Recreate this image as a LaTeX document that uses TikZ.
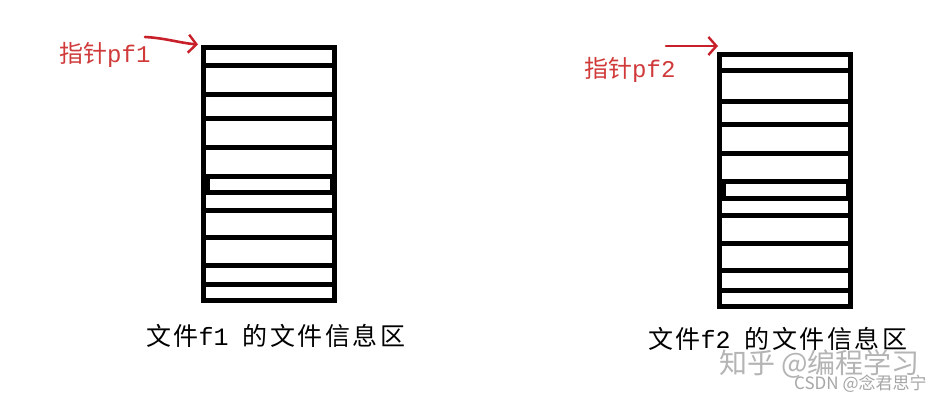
\documentclass[tikz,border=0pt]{standalone}
\usepackage{fontspec}
\setmainfont{Liberation Serif}
\setmonofont{Liberation Mono}
\newfontfamily\cjk{Noto Sans CJK SC}
\newfontfamily\cjksp[LetterSpace=10]{Noto Sans CJK SC}
\usetikzlibrary{arrows.meta}
\definecolor{penred}{HTML}{C8202A}
\definecolor{labred}{HTML}{D03A3A}
\definecolor{wmgray}{HTML}{B4B4B4}
\begin{document}
\begin{tikzpicture}[x=1pt,y=-1pt,
  filebox/.style={draw=black,line width=5pt,inner sep=0pt,minimum width=131pt,minimum height=252pt},
  rowline/.style={line width=5pt},
  ptr/.style={draw=penred,line width=2.6pt,line cap=round,-{Straight Barb[length=8pt,width=18pt,line width=2.4pt]}},
  ptrlabel/.style={text=labred,inner sep=0pt,anchor=west,font=\fontsize{24}{28}\selectfont},
  caption/.style={text=black,inner sep=0pt,anchor=west,font=\fontsize{25}{30}\selectfont},
  wm/.style={text=wmgray,inner sep=0pt,anchor=west}]
\useasboundingbox[fill=white] (0,0) rectangle (945,401);

% left file box
\node[filebox] (box1) at (268.8,174) {};
\foreach \y in {65.7,95,119,148,176,192,210,237,265,284}
  \draw[rowline] (203.3,\y) -- (334.3,\y);
\fill (205,178) rectangle (210,190);
\fill (330,178) rectangle (332,190);

% right file box
\node[filebox,minimum width=130.3pt,minimum height=251.6pt] (box2) at (784.85,180.5) {};
\foreach \y in {71,101.3,125,153.3,181,198,215,243,270.7,290}
  \draw[rowline] (719.7,\y) -- (850,\y);
\fill (721,183) rectangle (726,196);
\fill (846,183) rectangle (848,196);

% pointer labels
\node[ptrlabel] (p1) at (59,55) {{\cjk 指针}\ttfamily pf1};
\node[ptrlabel] (p2) at (584,70) {{\cjk 指针}\ttfamily pf2};

% pointer arrows
\coordinate (s1) at (145,37);
\coordinate (e1) at (198,44.5);
\draw[ptr] (s1) .. controls (165,38) and (180,43) .. (e1);
\coordinate (s2) at (666,46);
\coordinate (e2) at (718,46);
\draw[ptr] (s2) -- (e2);

% captions
\node[caption] (c1) at (146,335.5) {{\cjksp 文件}{\ttfamily f1}\hspace{14pt}{\cjksp 的文件信息区}};
\node[caption] (c2) at (648,339) {{\cjksp 文件}{\ttfamily f2}\hspace{14pt}{\cjksp 的文件信息区}};

% watermark
\node[wm,font=\cjk\fontsize{28}{30}\selectfont] (w1) at (719,364) {知乎 @编程学习};
\node[wm,font=\cjk\fontsize{17}{19}\selectfont,text=gray!70] (w2) at (794,384) {CSDN @念君思宁};
\end{tikzpicture}
\end{document}
